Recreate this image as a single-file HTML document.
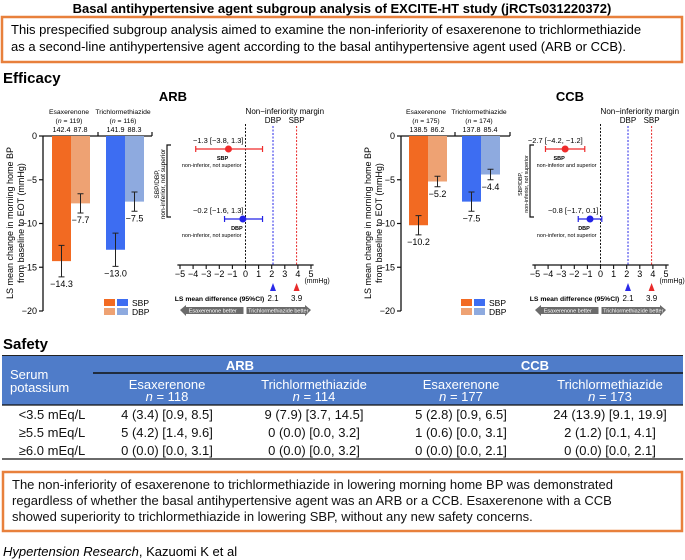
<!DOCTYPE html>
<html><head><meta charset="utf-8">
<style>
html,body{margin:0;padding:0;background:#fff;width:685px;height:560px;overflow:hidden}
svg{display:block;font-family:"Liberation Sans",Arial,sans-serif}
</style></head>
<body>
<svg id="root" width="685" height="560" viewBox="0 0 685 560">
<text x="342" y="13" text-anchor="middle" font-size="13" font-weight="bold">Basal antihypertensive agent subgroup analysis of EXCITE-HT study (jRCTs031220372)</text>
<rect x="2" y="17" width="680" height="45" fill="none" stroke="#e8803c" stroke-width="2.5"/>
<text x="11" y="34" font-size="13">This prespecified subgroup analysis aimed to examine the non-inferiority of esaxerenone to trichlormethiazide</text>
<text x="11" y="51" font-size="13">as a second-line antihypertensive agent according to the basal antihypertensive agent used (ARB or CCB).</text>
<text x="3" y="83" font-size="15" font-weight="bold">Efficacy</text>
<text x="173" y="101" text-anchor="middle" font-size="13" font-weight="bold">ARB</text>
<text x="570" y="101" text-anchor="middle" font-size="13" font-weight="bold">CCB</text>
<g id="charts"></g>

<text x="3" y="349" font-size="15" font-weight="bold">Safety</text>
<g>
<rect x="2" y="355" width="681" height="50" fill="#4f7cc9"/>
<line x1="2" y1="355.5" x2="683" y2="355.5" stroke="#222" stroke-width="1"/>
<line x1="93" y1="373" x2="683" y2="373" stroke="#111" stroke-width="1.5"/>
<line x1="2" y1="405" x2="683" y2="405" stroke="#111" stroke-width="1.2"/>
<line x1="2" y1="459" x2="683" y2="459" stroke="#111" stroke-width="1.2"/>
<g fill="#fff" font-size="13">
<text x="10" y="379">Serum</text>
<text x="10" y="392">potassium</text>
<text x="240" y="370" text-anchor="middle" font-weight="bold">ARB</text>
<text x="535" y="370" text-anchor="middle" font-weight="bold">CCB</text>
<text x="167" y="389" text-anchor="middle">Esaxerenone</text>
<text x="167" y="401" text-anchor="middle"><tspan font-style="italic">n</tspan> = 118</text>
<text x="314" y="389" text-anchor="middle">Trichlormethiazide</text>
<text x="314" y="401" text-anchor="middle"><tspan font-style="italic">n</tspan> = 114</text>
<text x="461" y="389" text-anchor="middle">Esaxerenone</text>
<text x="461" y="401" text-anchor="middle"><tspan font-style="italic">n</tspan> = 177</text>
<text x="610" y="389" text-anchor="middle">Trichlormethiazide</text>
<text x="610" y="401" text-anchor="middle"><tspan font-style="italic">n</tspan> = 173</text>
</g>
<g font-size="13" fill="#111" text-anchor="middle">
<text x="52" y="419">&lt;3.5 mEq/L</text>
<text x="167" y="419">4 (3.4) [0.9, 8.5]</text>
<text x="314" y="419">9 (7.9) [3.7, 14.5]</text>
<text x="461" y="419">5 (2.8) [0.9, 6.5]</text>
<text x="610" y="419">24 (13.9) [9.1, 19.9]</text>
<text x="52" y="437">≥5.5 mEq/L</text>
<text x="167" y="437">5 (4.2) [1.4, 9.6]</text>
<text x="314" y="437">0 (0.0) [0.0, 3.2]</text>
<text x="461" y="437">1 (0.6) [0.0, 3.1]</text>
<text x="610" y="437">2 (1.2) [0.1, 4.1]</text>
<text x="52" y="455">≥6.0 mEq/L</text>
<text x="167" y="455">0 (0.0) [0.0, 3.1]</text>
<text x="314" y="455">0 (0.0) [0.0, 3.2]</text>
<text x="461" y="455">0 (0.0) [0.0, 2.1]</text>
<text x="610" y="455">0 (0.0) [0.0, 2.1]</text>
</g>
</g>
<rect x="3" y="472" width="679" height="59" fill="none" stroke="#e8803c" stroke-width="2.5"/>
<g font-size="13" fill="#111">
<text x="12" y="489">The non-inferiority of esaxerenone to trichlormethiazide in lowering morning home BP was demonstrated</text>
<text x="12" y="505">regardless of whether the basal antihypertensive agent was an ARB or a CCB. Esaxerenone with a CCB</text>
<text x="12" y="521">showed superiority to trichlormethiazide in lowering SBP, without any new safety concerns.</text>
</g>
<text x="3" y="556" font-size="13"><tspan font-style="italic">Hypertension Research</tspan>, Kazuomi K et al</text>
</svg>
<script>
// ---- data ----
const panels = ["ARB", "CCB"];
const groupNames = ["Esaxerenone", "Trichlormethiazide"];
const groupN = [[119, 116], [175, 174]];
const baselineVals = [["142.4", "87.8", "141.9", "88.3"], ["138.5", "86.2", "137.8", "85.4"]];
const barMeans = [[-14.3, -7.7, -13.0, -7.5], [-10.2, -5.2, -7.5, -4.4]];
const barErr = [[1.8, 1.1, 1.9, 1.1], [1.1, 0.6, 1.1, 0.6]];
const yTicks = [0, -5, -10, -15, -20];
const diffMean = [[-1.3, -0.2], [-2.7, -0.8]];
const diffLo = [[-3.8, -1.6], [-4.2, -1.7]];
const diffHi = [[1.3, 1.3], [-1.2, 0.1]];
const diffNotes = [["non-inferior, not superior", "non-inferior, not superior"], ["non-inferior and superior", "non-inferior, not superior"]];
const xTicks = [-5, -4, -3, -2, -1, 0, 1, 2, 3, 4, 5];
const marginDBP = 2.1, marginSBP = 3.9;

// ---- layout ----
const NS = "http://www.w3.org/2000/svg";
const g = document.getElementById("charts");
function mk(tag, at, parent, txt) {
  const e = document.createElementNS(NS, tag);
  for (const k in at) e.setAttribute(k, at[k]);
  if (txt !== undefined) e.textContent = txt;
  (parent || g).appendChild(e);
  return e;
}
const barColors = ["#f26a22", "#eea273", "#3d6df2", "#8eaadf"];
const panelLayout = [
  { ax: 43, bx: [52, 71, 106, 125], fx0: 245.5, legX: 104, brX: 167, tickX: 98, endX: 152, fs: 6.5 },
  { ax: 401, bx: [409, 428, 462, 481], fx0: 600.5, legX: 461, brX: 530, tickX: 455, endX: 510, fs: 5.3 }
];
const Y0 = 136, YU = 8.75, BW = 19, FU = 13.1, FAX = 265;
const rowY = [149, 219];
const ptColors = ["#ef2b2b", "#2323e6"];

panels.forEach((p, pi) => {
  const L = panelLayout[pi];
  const yS = v => Y0 - v * YU;
  const xS = v => L.fx0 + v * FU;
  const pg = mk("g", {});
  
  
  // bar chart axis
  mk("line", { x1: L.ax, y1: yS(0), x2: L.ax, y2: yS(-20), stroke: "#111", "stroke-width": 1.3 }, pg);
  yTicks.forEach(t => {
    mk("line", { x1: L.ax - 4, y1: yS(t), x2: L.ax, y2: yS(t), stroke: "#111", "stroke-width": 1.2 }, pg);
    const tl = mk("text", { x: L.ax - 6, y: yS(t) + 3, "text-anchor": "end", "font-size": 9 }, pg, t === 0 ? "0" : "\u2212" + Math.abs(t));
    
    
  });
  const yt = mk("text", { transform: `translate(${L.ax - 30},223) rotate(-90)`, "text-anchor": "middle", "font-size": 9 }, pg, "LS mean change in morning home BP");
  
  
  mk("text", { transform: `translate(${L.ax - 19},223) rotate(-90)`, "text-anchor": "middle", "font-size": 9 }, pg, "from baseline to EOT (mmHg)");
  // top bracket
  mk("line", { x1: L.ax, y1: Y0, x2: L.endX, y2: Y0, stroke: "#111", "stroke-width": 1.3 }, pg);
  mk("line", { x1: L.tickX, y1: Y0 - 4, x2: L.tickX, y2: Y0, stroke: "#111", "stroke-width": 1.2 }, pg);
  mk("line", { x1: L.endX, y1: Y0 - 4, x2: L.endX, y2: Y0, stroke: "#111", "stroke-width": 1.2 }, pg);
  groupNames.forEach((gn, gi) => {
    const cx = L.bx[gi * 2] + BW - 2;
    mk("text", { x: cx, y: 114, "text-anchor": "middle", "font-size": 6.8 }, pg, gn);
    const t = mk("text", { x: cx, y: 123, "text-anchor": "middle", "font-size": 6.8 }, pg);
    t.innerHTML = '(<tspan font-style="italic">n</tspan> = ' + groupN[pi][gi] + ')';
  });
  barMeans[pi].forEach((v, bi) => {
    const x = L.bx[bi];
    const r = mk("rect", { x: x, y: yS(0), width: BW, height: yS(v) - yS(0), fill: barColors[bi] }, pg);
    
    
    const cx = x + BW / 2, e = barErr[pi][bi];
    mk("line", { x1: cx, y1: yS(v + e), x2: cx, y2: yS(v - e), stroke: "#222", "stroke-width": 1 }, pg);
    mk("line", { x1: cx - 3, y1: yS(v + e), x2: cx + 3, y2: yS(v + e), stroke: "#222", "stroke-width": 1 }, pg);
    mk("line", { x1: cx - 3, y1: yS(v - e), x2: cx + 3, y2: yS(v - e), stroke: "#222", "stroke-width": 1 }, pg);
    mk("text", { x: cx, y: yS(v - e) + 10, "text-anchor": "middle", "font-size": 9 }, pg, "\u2212" + Math.abs(v).toFixed(1));
    mk("text", { x: cx, y: 132, "text-anchor": "middle", "font-size": 7.2 }, pg, baselineVals[pi][bi]);
  });
  // legend
  const lg = mk("g", {}, pg);
  
  
  [[0, 2, "SBP"], [1, 3, "DBP"]].forEach((row, ri) => {
    const y = 299 + ri * 9;
    mk("rect", { x: L.legX, y: y, width: 11, height: 7, fill: barColors[row[0]] }, lg);
    mk("rect", { x: L.legX + 13, y: y, width: 11, height: 7, fill: barColors[row[1]] }, lg);
    mk("text", { x: L.legX + 28, y: y + 7, "font-size": 8.5 }, lg, row[2]);
  });
  // forest plot
  mk("line", { x1: xS(-5.2), y1: FAX, x2: xS(5.2), y2: FAX, stroke: "#111", "stroke-width": 1.3 }, pg);
  xTicks.forEach(t => {
    mk("line", { x1: xS(t), y1: FAX, x2: xS(t), y2: FAX + 4, stroke: "#111", "stroke-width": 1.1 }, pg);
    const tl = mk("text", { x: xS(t), y: FAX + 12, "text-anchor": "middle", "font-size": 9 }, pg, t < 0 ? "\u2212" + Math.abs(t) : String(t));
    
    
  });
  mk("text", { x: xS(4.5), y: FAX + 18, "font-size": 7 }, pg, "(mmHg)");
  mk("line", { x1: xS(0), y1: 124, x2: xS(0), y2: FAX, stroke: "#111", "stroke-width": 1, "stroke-dasharray": "2,1.5" }, pg);
  [[marginDBP, "#2a2ae8", "DBP"], [marginSBP, "#e82a2a", "SBP"]].forEach(m => {
    const x = xS(m[0]);
    const ml = mk("line", { x1: x, y1: 126, x2: x, y2: FAX, stroke: m[1], "stroke-width": 1, "stroke-dasharray": "2,1.5" }, pg);
    
    
    mk("text", { x: x, y: 123, "text-anchor": "middle", "font-size": 8 }, pg, m[2]);
    mk("path", { d: `M${x},283 L${x + 3},291 L${x - 3},291 Z`, fill: m[1] }, pg);
    mk("text", { x: x, y: 301, "text-anchor": "middle", "font-size": 8 }, pg, m[0].toFixed(1));
  });
  mk("text", { x: xS(3), y: 114, "text-anchor": "middle", "font-size": 8 }, pg, "Non\u2212inferiority margin");
  mk("text", { x: xS(-5.4), y: 301, "font-size": 6.8, "font-weight": "bold" }, pg, "LS mean difference (95%CI)");
  // arrows
  const ax0 = xS(-5), ax1 = xS(5), mid = xS(0);
  mk("path", { d: `M${ax0},310 L${ax0 + 6},305 L${ax0 + 6},307 L${mid - 2},307 L${mid - 2},314 L${ax0 + 6},314 L${ax0 + 6},316 Z`, fill: "#6b6b6b" }, pg);
  mk("path", { d: `M${ax1},310 L${ax1 - 6},305 L${ax1 - 6},307 L${mid + 1},307 L${mid + 1},314 L${ax1 - 6},314 L${ax1 - 6},316 Z`, fill: "#6b6b6b" }, pg);
  mk("text", { x: (ax0 + mid) / 2, y: 312.5, "text-anchor": "middle", "font-size": 5.5, fill: "#fff" }, pg, "Esaxerenone better");
  mk("text", { x: (ax1 + mid) / 2, y: 312.5, "text-anchor": "middle", "font-size": 5.5, fill: "#fff" }, pg, "Trichlormethiazide better");
  // points
  ["SBP", "DBP"].forEach((nm, ri) => {
    const y = rowY[ri], c = ptColors[ri];
    const m = diffMean[pi][ri], lo = diffLo[pi][ri], hi = diffHi[pi][ri];
    mk("line", { x1: xS(lo), y1: y, x2: xS(hi), y2: y, stroke: c, "stroke-width": 1.3 }, pg);
    mk("line", { x1: xS(lo), y1: y - 3, x2: xS(lo), y2: y + 3, stroke: c, "stroke-width": 1.2 }, pg);
    mk("line", { x1: xS(hi), y1: y - 3, x2: xS(hi), y2: y + 3, stroke: c, "stroke-width": 1.2 }, pg);
    const pt = mk("circle", { cx: xS(m), cy: y, r: 3.5, fill: c }, pg);
    
    
    const f = v => (v < 0 ? "\u2212" : "") + Math.abs(v).toFixed(1);
    const lab = `${f(m)} [${f(lo)}, ${f(hi)}]`;
    mk("text", { x: Math.min(xS(hi), xS(0)) - 2, y: y - 6, "text-anchor": "end", "font-size": 7.5 }, pg, lab);
    mk("text", { x: xS(m) - 6, y: y + 11, "text-anchor": "middle", "font-size": 5.5, "font-weight": "bold" }, pg, nm);
    mk("text", { x: xS(0) - 4, y: y + 18, "text-anchor": "end", "font-size": 5.5 }, pg, diffNotes[pi][ri]);
  });
  // bracket
  mk("path", { d: `M${L.brX + 4},${rowY[0] - 4} L${L.brX},${rowY[0] - 4} L${L.brX},${rowY[1] - 2} L${L.brX + 4},${rowY[1] - 2}`, fill: "none", stroke: "#111", "stroke-width": 1.2 }, pg);
  mk("text", { transform: `translate(${L.brX - 8},184) rotate(-90)`, "text-anchor": "middle", "font-size": L.fs }, pg, "SBP/DBP,");
  mk("text", { transform: `translate(${L.brX - 2},184) rotate(-90)`, "text-anchor": "middle", "font-size": L.fs }, pg, "non-inferior, not superior");
});
</script>
</body></html>
